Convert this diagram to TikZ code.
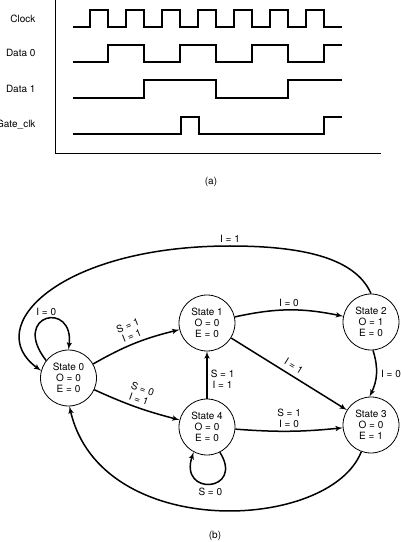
\documentclass[tikz,border=0pt]{standalone}
\usepackage{fontspec}
\setmainfont{TeX Gyre Heros}
\usepackage{tikz}
\usetikzlibrary{positioning}
\usetikzlibrary{shapes,arrows}
\tikzstyle{wave} = [draw, line width=1.6pt]
\tikzstyle{trans} = [draw, line width=1.5pt, -latex']
\tikzstyle{state} = [draw, circle, line width=0.8pt, minimum size=56pt, inner sep=0pt, align=center]
\tikzstyle{lbl} = [align=center, inner sep=3pt]

\begin{document}
\begin{tikzpicture}[x=1pt, y=1pt, font=\fontsize{10}{11}\selectfont]
\useasboundingbox (0,0) rectangle (400,542);
% (a) timing
\draw [line width=0.8pt] (55,542) -- (55,389) -- (381,389);
\node [anchor=east] at (39,523) (clk) {Clock};
\node [anchor=east] at (39,489) (d0) {Data 0};
\node [anchor=east] at (39,453) (d1) {Data 1};
\node [anchor=east] at (39,417) (gclk) {Gate\_clk};
\path [wave] (73,515) \foreach \k in {0,...,6} { -- ({90+36*\k},515) -- ({90+36*\k},532) -- ({108+36*\k},532) -- ({108+36*\k},515) } -- (342,515);
\path [wave] (73,480) \foreach \k in {0,1,2} { -- ({108+72*\k},480) -- ({108+72*\k},497) -- ({144+72*\k},497) -- ({144+72*\k},480) } -- (324,480) -- (324,497) -- (342,497);
\path [wave] (73,444) -- (144,444) -- (144,462) -- (216,462) -- (216,444) -- (288,444) -- (288,462) -- (342,462);
\path [wave] (73,408) -- (181,408) -- (181,425) -- (199,425) -- (199,408) -- (324,408) -- (324,425) -- (342,425);
\node at (211,360) (capa) {(a)};

% (b) state machine
\node at (68.5,164) [state] (S0) {State 0\\O = 0\\E = 0};
\node at (207,219) [state] (S1) {State 1\\O = 0\\E = 0};
\node at (371,220) [state] (S2) {State 2\\O = 1\\E = 0};
\node at (207,115) [state] (S4) {State 4\\O = 0\\E = 0};
\node at (371,117) [state] (S3) {State 3\\O = 0\\E = 1};

\path [trans] (S0.142) .. controls (10,228) and (75,242) .. node [lbl, pos=0.5, above] {I = 0} (S0.north);
\path [trans] (S0) to[bend left=8] node [lbl, sloped, above=1pt] {S = 1\\I = 1} (S1);
\path [trans] (S1) to[bend left=12] node [lbl, above] {I = 0} (S2);
\path [trans] (S2.-86) to[bend left=22] node [lbl, right, xshift=1pt] {I = 0} (S3.93);
\path [trans] (S1) -- node [lbl, sloped, above=2pt] {I = 1} (S3);
\path [trans] (S4) -- node [lbl, right, pos=0.4] {S = 1\\I = 1} (S1);
\path [trans] (S0) to[bend right=5] node [lbl, sloped, above=1pt] {S = 0\\I = 1} (S4);
\path [trans] (S4) to[bend right=5] node [lbl, above] {S = 1\\I = 0} (S3);
\path [trans] (S4.-63) .. controls (245,50) and (178,45) .. node [lbl, below] {S = 0} (S4.-118);
\path [trans] (S3.-110) .. controls (330,10) and (100,0) .. (S0.-88);
\coordinate (top) at (230,296);
\path [trans] (S2.north) .. controls (355,285) and (300,296) .. (top) node [lbl, above] {I = 1} .. controls (60,296) and (-20,215) .. (S0.165);
\node at (215,6) (capb) {(b)};
\end{tikzpicture}
\end{document}
